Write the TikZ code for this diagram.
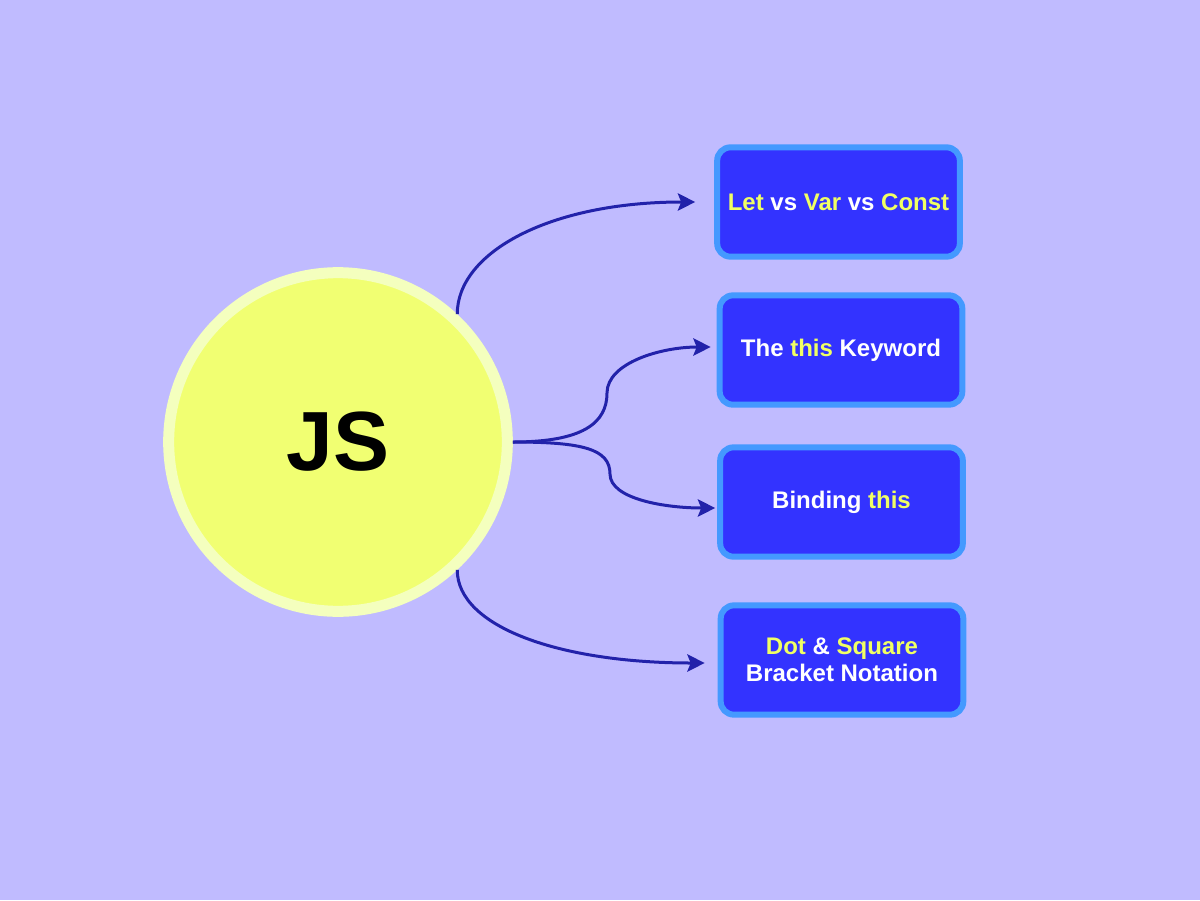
\documentclass[tikz,border=0pt]{standalone}
\usepackage{fontspec}
\setmainfont{Liberation Sans}
\usepackage{tikz}
\usetikzlibrary{arrows.meta,positioning}

\definecolor{bgpurple}{RGB}{192,187,255}
\definecolor{jsyellow}{RGB}{241,255,114}
\definecolor{jsring}{RGB}{244,255,190}
\definecolor{boxblue}{RGB}{51,51,255}
\definecolor{boxedge}{RGB}{68,153,255}
\definecolor{arrowblue}{RGB}{34,34,170}
\definecolor{hl}{RGB}{240,255,100}

\begin{document}
\begin{tikzpicture}[x=0.75pt,y=-0.75pt,
   topic/.style={rectangle,rounded corners=10pt,fill=boxblue,draw=boxedge,line width=4.5pt,
      minimum width=182pt,minimum height=82pt,text=white,align=center,
      font=\fontsize{18}{20}\selectfont\bfseries},
   link/.style={draw=arrowblue,line width=2.25pt,-{Stealth[length=13pt,width=13pt,inset=2.5pt]}}]
   \fill[bgpurple] (0,0) rectangle (1200,900);
   \useasboundingbox (0,0) rectangle (1200,900);
   \node[circle,fill=jsyellow,draw=jsring,line width=8.25pt,minimum size=254pt,
      font=\fontsize{63}{63}\selectfont\bfseries] (js) at (338,442) {JS};
   \node[topic] (letvar) at (838.5,202) {\textcolor{hl}{Let} vs \textcolor{hl}{Var} vs \textcolor{hl}{Const}};
   \node[topic] (thiskw) at (841,350) {The \textcolor{hl}{this} Keyword};
   \node[topic] (bind) at (841.5,502) {Binding \textcolor{hl}{this}};
   \node[topic] (dotsq) at (842,660) {\textcolor{hl}{Dot} \& \textcolor{hl}{Square}\\Bracket Notation};
    \draw[link] (js.47) .. controls +(0,-62) and +(-145,0) .. ([shift={(-19,0)}]letvar.west);
    \draw[link] (js.east) .. controls +(70,0) and +(0,30) .. (607,393)
       .. controls +(0,-30) and +(-50,0) .. ([shift={(-6,-3)}]thiskw.west);
    \draw[link] (js.east) .. controls +(70,0) and +(0,-25) .. (610,474)
       .. controls +(0,25) and +(-50,0) .. ([shift={(-2,6)}]bind.west);
    \draw[link] (js.-47) .. controls +(0,57) and +(-145,0) .. ([shift={(-13,3)}]dotsq.west);
\end{tikzpicture}
\end{document}
